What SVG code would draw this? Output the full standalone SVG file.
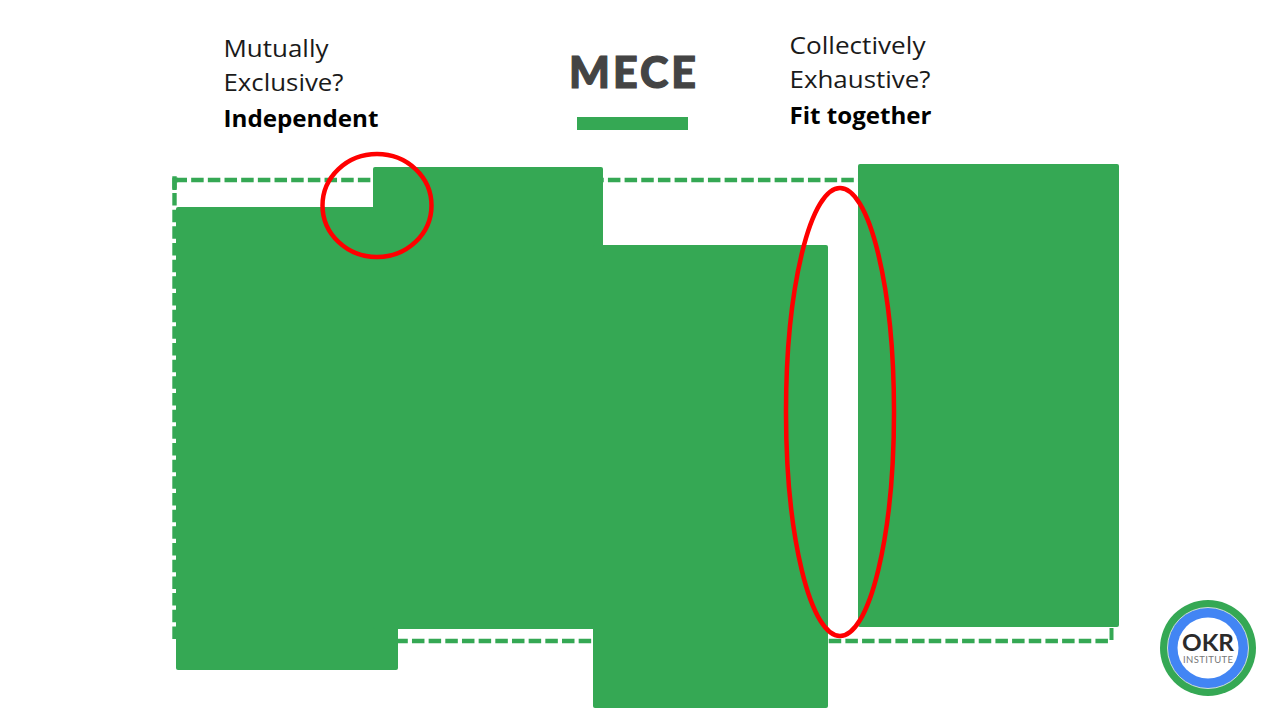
<svg xmlns="http://www.w3.org/2000/svg" width="1280" height="720" viewBox="0 0 1280 720">
<style>
.b{fill:#35a854}
.d{fill:none;stroke:#35a854;stroke-width:4.400;stroke-dasharray:12.5 4.17}
.r{fill:none;stroke:#ff0000;stroke-width:4.500}
.t{font-family:"Open Sans","Noto Sans","Liberation Sans",sans-serif;font-size:23.5px;fill:#1a1a1a}
.s{font-weight:700;fill:#000}
</style>
<rect width="1280" height="720" fill="#fff"/>
<g id="frame">
<path class="d" d="M174.500 180H860"/>
<path class="d" d="M174.500 176.300V640"/>
<path class="d" d="M395.300 641H1108"/>
<path fill="none" stroke="#35a854" stroke-width="4" d="M1111.500 628V640"/>
<path fill="none" stroke="#35a854" stroke-width="4.400" d="M172.500 180H178M174.500 178V190"/>
</g>
<g id="title">
<text x="569" y="88" textLength="127" lengthAdjust="spacing" style="font-family:Lato,'Open Sans',sans-serif;font-size:43px;font-weight:900;fill:#444;stroke:#444;stroke-width:1.200">MECE</text>
<rect x="577" y="117" width="111" height="13" fill="#35a854"/>
</g>
<g id="left-label" class="t">
<text x="223.500" y="57" textLength="105" lengthAdjust="spacingAndGlyphs">Mutually</text>
<text x="223.500" y="91" textLength="120" lengthAdjust="spacingAndGlyphs">Exclusive?</text>
<text x="223.500" y="127" textLength="155" lengthAdjust="spacingAndGlyphs" class="s">Independent</text>
</g>
<g id="right-label" class="t">
<text x="789.500" y="54" textLength="136" lengthAdjust="spacingAndGlyphs">Collectively</text>
<text x="789.500" y="88" textLength="141" lengthAdjust="spacingAndGlyphs">Exhaustive?</text>
<text x="789.500" y="124" textLength="142" lengthAdjust="spacingAndGlyphs" class="s">Fit together</text>
</g>
<g id="blocks">
<rect id="block-1" class="b" x="176" y="207" width="222" height="463" rx="2"/>
<rect id="block-2" class="b" x="373" y="167" width="230" height="462" rx="2"/>
<rect id="block-3" class="b" x="593" y="245" width="235" height="463" rx="2"/>
<rect id="block-4" class="b" x="858" y="164" width="261" height="463" rx="2"/>
</g>
<g id="highlights">
<ellipse id="overlap" class="r" cx="377" cy="205.500" rx="54.500" ry="51.500"/>
<ellipse id="gap" class="r" cx="840" cy="412" rx="54" ry="224"/>
</g>
<g id="logo">
<circle cx="1208" cy="648" r="48" fill="#35a854"/>
<circle cx="1208" cy="648" r="40.500" fill="#4285f4" stroke="#cfe0d5" stroke-width="1"/>
<circle cx="1208" cy="648" r="30.500" fill="#fff"/>
<text x="1208" y="651" text-anchor="middle" textLength="52" lengthAdjust="spacingAndGlyphs" style="font-family:Lato,'Open Sans',sans-serif;font-size:22px;font-weight:700;fill:#2b2b2b">OKR</text>
<text x="1208" y="662.500" text-anchor="middle" textLength="50" lengthAdjust="spacing" style="font-family:Lato,'Open Sans',sans-serif;font-size:9.500px;fill:#777">INSTITUTE</text>
</g>
</svg>
